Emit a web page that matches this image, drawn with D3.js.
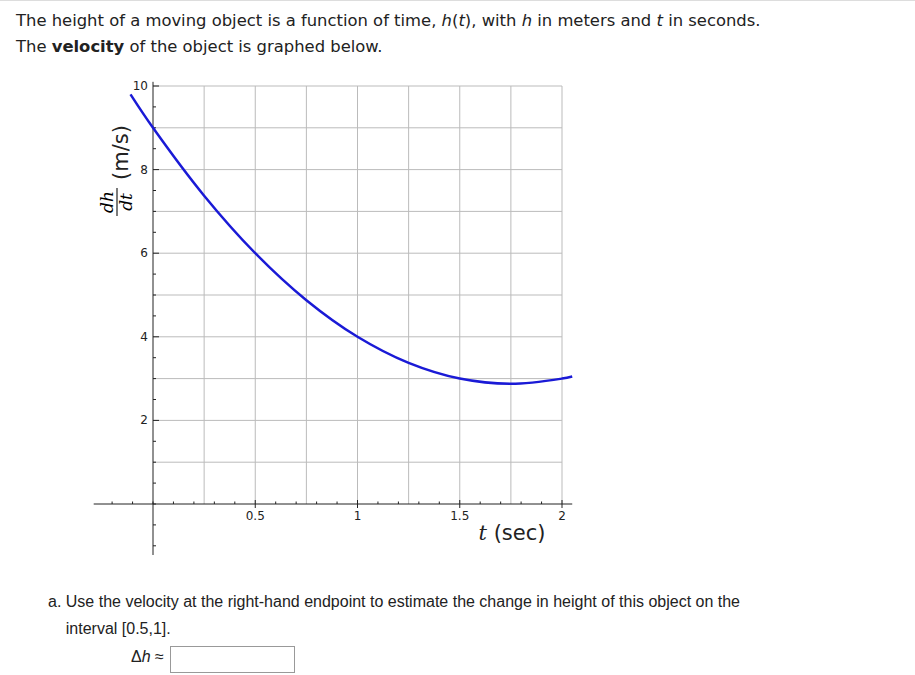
<!DOCTYPE html>
<html><head><meta charset="utf-8">
<script src="https://cdn.jsdelivr.net/npm/d3@7"></script>
<style>
body{margin:0;background:#fff;font-family:"DejaVu Sans",Verdana,sans-serif;}
.top{position:absolute;left:16px;top:8px;font-size:16.4px;line-height:26px;color:#222;}
.q{position:absolute;left:48px;top:588px;font-size:16px;line-height:27px;color:#222;font-family:"Liberation Sans",Arial,sans-serif;}
.ans{position:absolute;left:131px;top:648px;font-size:16px;color:#222;font-family:"Liberation Sans",Arial,sans-serif;}
.box{position:absolute;left:170px;top:646px;width:125px;height:27px;border:1px solid #999;box-sizing:border-box;}
.hr{position:absolute;left:0;top:0;width:915px;height:1px;background:#ddd;}
</style></head><body>
<div class="hr"></div>
<div class="top">The height of a moving object is a function of time, <i>h</i>(<i>t</i>), with <i>h</i> in meters and <i>t</i> in seconds.<br>The <b>velocity</b> of the object is graphed below.</div>
<svg id="c" width="915" height="580" style="position:absolute;left:0;top:0"></svg>
<div class="q">a. Use the velocity at the right-hand endpoint to estimate the change in height of this object on the<br>&nbsp;&nbsp;&nbsp;&nbsp;interval [0.5,1].</div>
<div class="ans">Δ<i>h</i> ≈</div>
<div class="box"></div>
<script>
const tVals=[-0.11,0,0.25,0.5,0.75,1,1.25,1.5,1.75,2,2.05];
const vVals=[9.8,9,7.375,6,4.875,4,3.375,3,2.875,3,3.05];
const xTicks=[0.5,1,1.5,2];
const yTicks=[2,4,6,8,10];
const svg=d3.select("#c");
const x=d3.scaleLinear().domain([0,2]).range([153,562]);
const y=d3.scaleLinear().domain([0,10]).range([504,86]);
const g=svg.append("g");
d3.range(0.25,2.01,0.25).forEach(t=>g.append("line").attr("x1",x(t)).attr("x2",x(t)).attr("y1",y(0)).attr("y2",y(10)).attr("stroke","#bbb"));
d3.range(1,10.01,1).forEach(v=>g.append("line").attr("x1",x(0)).attr("x2",x(2)).attr("y1",y(v)).attr("y2",y(v)).attr("stroke","#bbb"));
g.append("line").attr("x1",x(-0.29)).attr("x2",x(2.05)).attr("y1",y(0)).attr("y2",y(0)).attr("stroke","#222");
g.append("line").attr("x1",x(0)).attr("x2",x(0)).attr("y1",y(-1.22)).attr("y2",y(10.1)).attr("stroke","#222");
d3.range(-0.2,2.01,0.1).forEach(t=>{const mj=xTicks.some(k=>Math.abs(k-t)<1e-6);g.append("line").attr("x1",x(t)).attr("x2",x(t)).attr("y1",y(0)-(mj?4:2.5)).attr("y2",y(0)+(mj?4:0)).attr("stroke","#222");});
d3.range(-1,10.01,0.5).forEach(v=>{const mj=yTicks.includes(v);g.append("line").attr("x1",x(0)).attr("x2",x(0)+(mj?6:3)).attr("y1",y(v)).attr("y2",y(v)).attr("stroke","#222");});
yTicks.forEach(v=>g.append("text").attr("x",x(0)-5).attr("y",y(v)+4).attr("text-anchor","end").attr("font-size",12).attr("fill","#222").text(v));
xTicks.forEach(t=>g.append("text").attr("x",x(t)).attr("y",y(0)+16).attr("text-anchor","middle").attr("font-size",12).attr("fill","#222").text(t));
g.append("text").attr("x",512).attr("y",540).attr("text-anchor","middle").attr("font-size",21).attr("fill","#222").html('<tspan font-style="italic" font-family="DejaVu Serif">t</tspan> (sec)');
const yl=g.append("g").attr("transform","translate(120,172) rotate(-90)");
yl.append("text").attr("x",-30).attr("y",-7).attr("text-anchor","middle").attr("font-size",17).attr("font-style","italic").attr("font-family","DejaVu Serif").text("dh");
yl.append("line").attr("x1",-44).attr("x2",-16).attr("y1",-3).attr("y2",-3).attr("stroke","#222").attr("stroke-width",1.2);
yl.append("text").attr("x",-30).attr("y",12).attr("text-anchor","middle").attr("font-size",17).attr("font-style","italic").attr("font-family","DejaVu Serif").text("dt");
yl.append("text").attr("x",-8).attr("y",8).attr("font-size",21).attr("fill","#222").text("(m/s)");
const line=d3.line().x((d,i)=>x(tVals[i])).y(d=>y(d)).curve(d3.curveCatmullRom);
g.append("path").attr("d",line(vVals)).attr("fill","none").attr("stroke","#1a1ad6").attr("stroke-width",2.5);
</script></body></html>
